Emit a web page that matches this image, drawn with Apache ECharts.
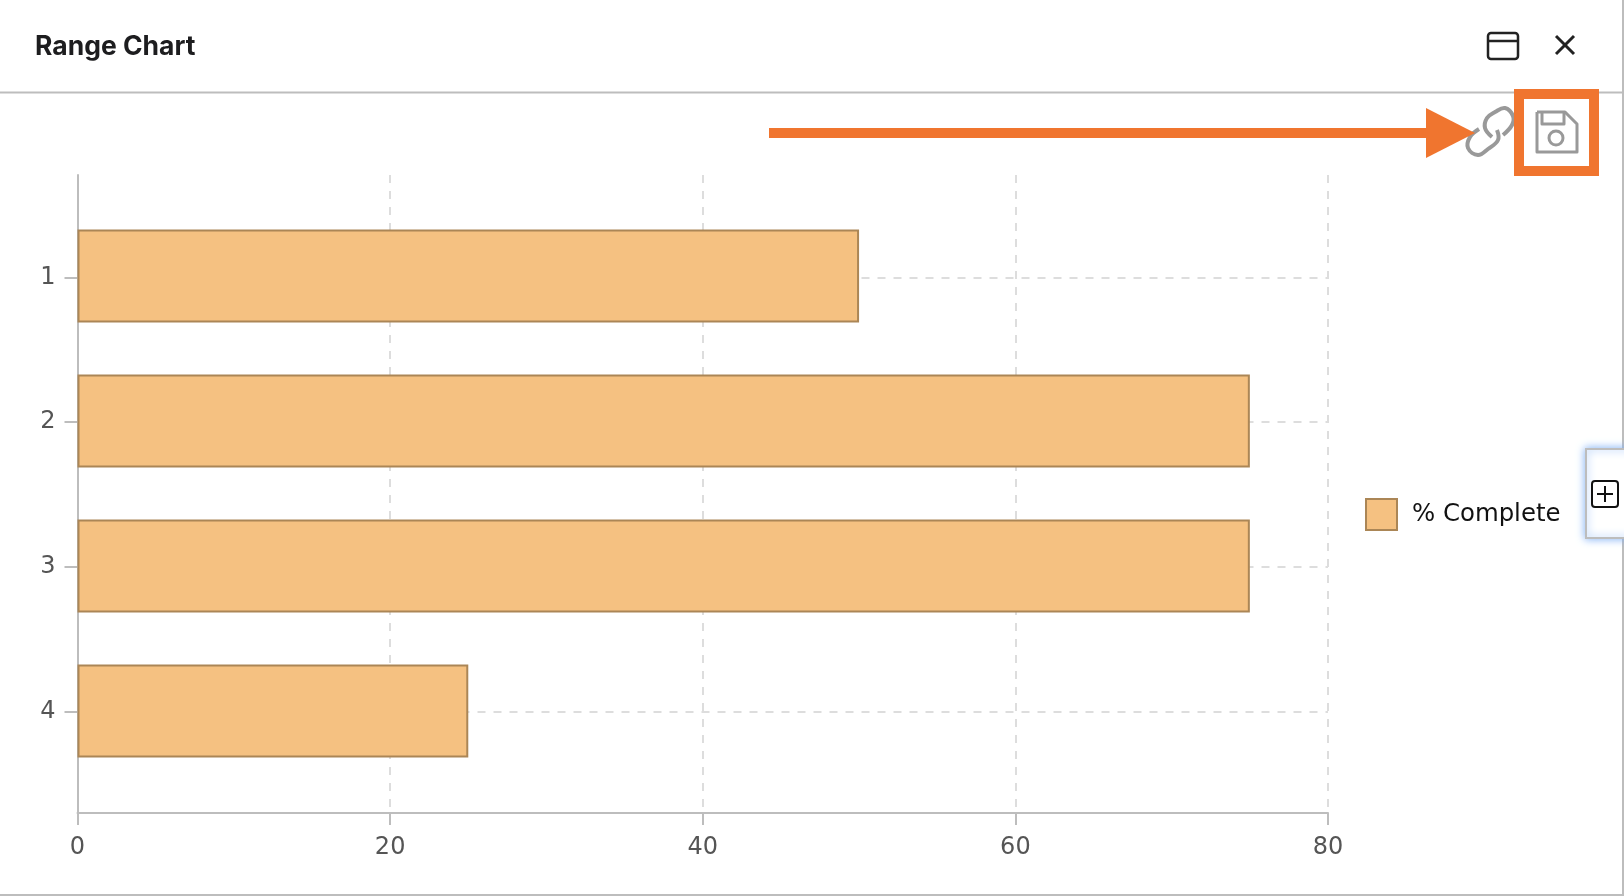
<!DOCTYPE html>
<html>
<head>
<meta charset="utf-8">
<title>Range Chart</title>
<style>
  html, body { margin: 0; padding: 0; background: #fff; }
  #chart { width: 1624px; height: 896px; }
</style>
<script src="https://cdn.jsdelivr.net/npm/echarts@6/dist/echarts.min.js"></script>
</head>
<body>
<div id="chart"></div>
<script>
const categories = ['1', '2', '3', '4'];
const tickRows = [1, 2, 3, 4];
const percentComplete = [50, 75, 75, 25];
const seriesName = '% Complete';

const orange = '#F0752F';
const iconGray = '#999999';
const frameGray = '#BDBDBD';
const font = '"DejaVu Sans"';

const myChart = echarts.init(document.getElementById('chart'));

// the frame around the bars runs past the category bands, so it gets its own grid
myChart.setOption({
  animation: false,
  backgroundColor: '#fff',
  title: {
    text: 'Range Chart',
    left: 30,
    top: 29,
    textStyle: { fontFamily: 'Inter', fontWeight: 700, fontSize: 26.5, color: '#1d1d1f' }
  },
  legend: {
    data: [seriesName],
    left: 1365,
    top: 498,
    itemWidth: 31,
    itemHeight: 31,
    itemGap: 0,
    icon: 'rect',
    padding: 0,
    textStyle: { fontFamily: font, fontSize: 24.4, color: '#111', padding: [9, 0, 0, 10] }
  },
  grid: [
    { left: 77.5, top: 175, width: 1250.5, height: 638 },
    { left: 77.5, top: 203.5, width: 1250.5, height: 580 }
  ],
  xAxis: [
    {
      gridIndex: 0,
      type: 'value',
      min: 0,
      max: 80,
      interval: 20,
      axisLine: { show: true, lineStyle: { color: frameGray, width: 2 } },
      axisTick: { show: true, length: 12, lineStyle: { color: frameGray, width: 2 } },
      axisLabel: { fontFamily: font, fontSize: 24, color: '#555', margin: 23 },
      splitLine: { show: true, lineStyle: { color: '#DDDDDD', width: 2, type: [8, 8] } }
    },
    { gridIndex: 1, type: 'value', min: 0, max: 80, show: false }
  ],
  yAxis: [
    {
      gridIndex: 0,
      type: 'value',
      inverse: true,
      min: 0.293,
      max: 4.7,
      axisLine: { show: true, lineStyle: { color: frameGray, width: 2 } },
      axisTick: { show: true, length: 13, customValues: tickRows, lineStyle: { color: frameGray, width: 2 } },
      axisLabel: { fontFamily: font, fontSize: 24, color: '#555', margin: 22, customValues: tickRows },
      splitLine: { show: true, lineStyle: { color: '#DDDDDD', width: 2, type: [8, 8] } }
    },
    { gridIndex: 1, type: 'category', inverse: true, data: categories, show: false }
  ],
  series: [
    {
      name: seriesName,
      type: 'bar',
      xAxisIndex: 1,
      yAxisIndex: 1,
      barWidth: 93,
      data: percentComplete,
      itemStyle: { color: '#F5C181', borderColor: '#AB8656', borderWidth: 2 }
    }
  ],
  graphic: [
    // panel frame
    { type: 'line', z: 1, shape: { x1: 0, y1: 92.5, x2: 1623, y2: 92.5 }, style: { stroke: frameGray, lineWidth: 2 } },
    { type: 'line', z: 1, shape: { x1: 1623, y1: 0, x2: 1623, y2: 896 }, style: { stroke: frameGray, lineWidth: 2 } },
    { type: 'line', z: 1, shape: { x1: 0, y1: 895, x2: 1624, y2: 895 }, style: { stroke: frameGray, lineWidth: 2 } },
    // window and close buttons
    { type: 'rect', z: 5, shape: { x: 1488, y: 33, width: 30, height: 26, r: 3 }, style: { fill: 'none', stroke: '#222', lineWidth: 2.5 } },
    { type: 'line', z: 5, shape: { x1: 1488, y1: 41, x2: 1518, y2: 41 }, style: { stroke: '#222', lineWidth: 2.5 } },
    { type: 'line', z: 5, shape: { x1: 1556, y1: 36, x2: 1574, y2: 54 }, style: { stroke: '#222', lineWidth: 3 } },
    { type: 'line', z: 5, shape: { x1: 1574, y1: 36, x2: 1556, y2: 54 }, style: { stroke: '#222', lineWidth: 3 } },
    // link icon
    {
      type: 'polyline', z: 6,
      shape: { smooth: 0.4, points: [[1479, 129], [1470, 137], [1468, 148], [1478, 155], [1488, 149], [1498, 140], [1497, 130]] },
      style: { fill: 'none', stroke: iconGray, lineWidth: 4 }
    },
    {
      type: 'polyline', z: 6,
      shape: { smooth: 0.4, points: [[1492, 137], [1485, 128], [1487, 118], [1495, 112], [1505, 108], [1513, 116], [1512, 125], [1503, 135]] },
      style: { fill: 'none', stroke: iconGray, lineWidth: 4 }
    },
    // save icon
    {
      type: 'polyline', z: 6,
      shape: { points: [[1537, 112], [1565, 112], [1577, 124], [1577, 152], [1537, 152], [1537, 112]] },
      style: { fill: 'none', stroke: iconGray, lineWidth: 3, lineJoin: 'round' }
    },
    {
      type: 'polyline', z: 6,
      shape: { points: [[1542, 112], [1542, 124], [1564, 124], [1564, 112]] },
      style: { fill: 'none', stroke: iconGray, lineWidth: 3, lineJoin: 'round' }
    },
    { type: 'circle', z: 6, shape: { cx: 1556, cy: 138, r: 7 }, style: { fill: 'none', stroke: iconGray, lineWidth: 3 } },
    // orange callout
    { type: 'rect', z: 7, shape: { x: 1519, y: 94, width: 75, height: 77 }, style: { fill: 'none', stroke: orange, lineWidth: 10 } },
    { type: 'rect', z: 7, shape: { x: 769, y: 128, width: 659, height: 10 }, style: { fill: orange } },
    { type: 'polygon', z: 7, shape: { points: [[1426, 108], [1426, 158], [1475, 133]] }, style: { fill: orange } },
    // side tab with plus button
    {
      type: 'rect', z: 5,
      shape: { x: 1586, y: 449, width: 50, height: 89 },
      style: { fill: '#fff', stroke: frameGray, lineWidth: 2, shadowBlur: 8, shadowColor: '#7FB0F5' }
    },
    { type: 'rect', z: 6, shape: { x: 1592, y: 481, width: 26, height: 26, r: 3 }, style: { fill: '#fff', stroke: '#111', lineWidth: 2 } },
    { type: 'line', z: 6, shape: { x1: 1597, y1: 494, x2: 1613, y2: 494 }, style: { stroke: '#111', lineWidth: 2 } },
    { type: 'line', z: 6, shape: { x1: 1605, y1: 486, x2: 1605, y2: 502 }, style: { stroke: '#111', lineWidth: 2 } }
  ]
});
</script>
</body>
</html>
